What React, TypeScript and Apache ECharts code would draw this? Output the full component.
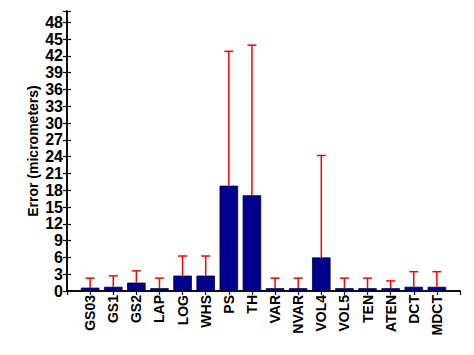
import React, { useEffect, useRef } from "react";
import * as echarts from "echarts";

const categories = ["GS03", "GS1", "GS2", "LAP", "LOG", "WHS", "PS", "TH", "VAR", "NVAR", "VOL4", "VOL5", "TEN", "ATEN", "DCT", "MDCT"];
const meanError = [0.6, 0.75, 1.5, 0.5, 2.75, 2.75, 18.8, 17.1, 0.5, 0.5, 6.0, 0.5, 0.5, 0.5, 0.75, 0.75];
const upperError = [2.3, 2.7, 3.6, 2.3, 6.25, 6.25, 42.8, 43.9, 2.3, 2.3, 24.2, 2.3, 2.3, 1.8, 3.45, 3.45];
const yTicks = [0, 3, 6, 9, 12, 15, 18, 21, 24, 27, 30, 33, 36, 39, 42, 45, 48];

const FONT = "Liberation Sans";

export default function App() {
  const ref = useRef<HTMLDivElement>(null);
  useEffect(() => {
    if (!ref.current) return;
    const chart = echarts.init(ref.current, null, { renderer: "svg" });
    const barData = categories.map((_, i) => [i + 1, meanError[i]]);
    const errData = categories.map((_, i) => [i + 1, meanError[i], upperError[i]]);
    const axisLine = { show: true, lineStyle: { color: "#000", width: 1.5 } };
    chart.setOption({
      animation: false,
      textStyle: { fontFamily: FONT, fontWeight: "bold" },
      grid: { left: 67, right: 14, top: 11, bottom: 64 },
      xAxis: [
        {
          type: "value",
          min: 0,
          max: 17,
          interval: 1,
          position: "bottom",
          axisLine,
          axisTick: { show: false },
          splitLine: { show: false },
          axisLabel: {
            rotate: 90,
            margin: 4,
            fontFamily: FONT,
            fontWeight: "bold",
            fontSize: 14,
            color: "#000",
            formatter: (v: number) => (v >= 1 && v <= categories.length ? categories[v - 1] : ""),
          },
        },
        {
          type: "value",
          min: 0,
          max: 17,
          interval: 1,
          position: "top",
          axisLine,
          axisTick: { show: true, inside: true, length: 4, lineStyle: { color: "#000", width: 1.2 } },
          splitLine: { show: false },
          axisLabel: { show: false },
        },
      ],
      yAxis: [
        {
          type: "value",
          min: 0,
          max: 50,
          interval: 3,
          position: "left",
          axisLine,
          axisTick: { show: true, inside: true, length: 4, lineStyle: { color: "#000", width: 1.2 } },
          splitLine: { show: false },
          axisLabel: {
            margin: 4,
            fontFamily: FONT,
            fontWeight: "bold",
            fontSize: 16,
            color: "#000",
            formatter: (v: number) => (yTicks.includes(v) ? String(v) : ""),
          },
          name: "Error (micrometers)",
          nameLocation: "middle",
          nameGap: 27,
          nameMoveOverlap: false,
          nameTextStyle: { fontFamily: FONT, fontWeight: "bold", fontSize: 14, color: "#000" },
        },
        {
          type: "value",
          min: 0,
          max: 50,
          interval: 3,
          position: "right",
          axisLine,
          axisTick: { show: true, inside: true, length: 4, lineStyle: { color: "#000", width: 1.2 } },
          splitLine: { show: false },
          axisLabel: { show: false },
        },
      ],
      series: [
        {
          type: "custom",
          xAxisIndex: 0,
          yAxisIndex: 0,
          z: 1,
          renderItem: (params: any, api: any) => {
            const x = api.value(0);
            const base = api.coord([x, api.value(1)]);
            const top = api.coord([x, api.value(2)]);
            const half = 4.5;
            const style = { stroke: "#ff0000", lineWidth: 1.5 };
            return {
              type: "group",
              children: [
                { type: "line", shape: { x1: base[0], y1: base[1], x2: top[0], y2: top[1] }, style },
                { type: "line", shape: { x1: top[0] - half, y1: top[1], x2: top[0] + half, y2: top[1] }, style },
              ],
            };
          },
          data: errData,
        },
        {
          type: "bar",
          xAxisIndex: 0,
          yAxisIndex: 0,
          z: 2,
          barWidth: 18.5,
          itemStyle: { color: "#00008c", borderColor: "#000040", borderWidth: 0.8 },
          data: barData,
        },
      ],
    });
    return () => chart.dispose();
  }, []);
  return <div ref={ref} style={{ width: 474, height: 355, position: "absolute", left: 0, top: 0 }} />;
}
